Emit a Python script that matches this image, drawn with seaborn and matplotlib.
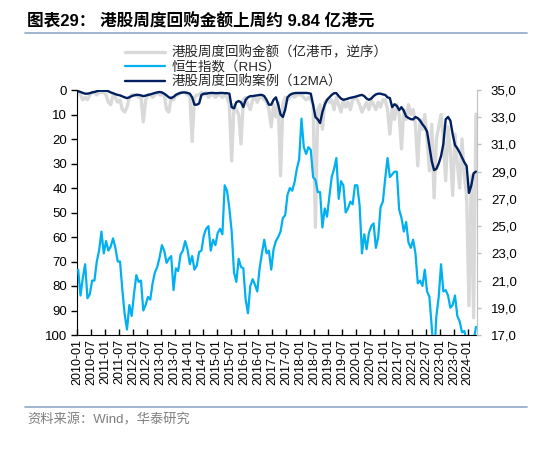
import numpy as np
import pandas as pd
import matplotlib
matplotlib.use("Agg")
import matplotlib.pyplot as plt
import seaborn as sns
from matplotlib.ticker import FuncFormatter
from matplotlib.lines import Line2D

# ---------------- data (monthly, Jan 2010 - Apr 2024) ----------------
start_year = 2010
hsi_k = [  # Hang Seng Index, thousand points (RHS)
    21.8, 19.9, 21.2, 22.2, 19.7, 20.0, 21.0, 21.0, 22.4, 23.2, 24.6, 23.0,   # 2010
    23.9, 23.2, 23.5, 24.1, 23.4, 22.4, 22.4, 20.3, 18.5, 17.4, 19.2, 18.4,   # 2011
    20.0, 21.4, 20.9, 21.0, 18.8, 19.2, 19.8, 19.6, 20.8, 21.6, 22.0, 22.7,   # 2012
    23.6, 23.2, 22.3, 22.6, 22.8, 20.3, 21.9, 21.7, 22.9, 23.2, 23.9, 23.3,   # 2013
    22.2, 22.8, 21.8, 22.1, 23.1, 23.2, 24.3, 24.8, 25.0, 23.2, 24.0, 23.6,   # 2014
    24.5, 24.8, 24.4, 28.0, 27.6, 26.3, 24.6, 21.6, 20.9, 22.6, 22.0, 21.9,   # 2015
    19.6, 18.6, 20.6, 21.1, 20.7, 20.2, 21.9, 23.0, 24.0, 23.0, 23.2, 21.8,   # 2016
    23.3, 23.9, 24.2, 24.6, 25.6, 25.8, 27.3, 27.8, 27.6, 28.2, 29.2, 29.9,   # 2017
    32.9, 30.8, 30.3, 30.8, 30.6, 28.6, 28.4, 27.5, 27.5, 24.9, 26.3, 25.7,   # 2018
    27.2, 28.6, 29.2, 30.0, 27.0, 28.3, 28.0, 26.0, 26.3, 26.8, 26.6, 28.0,   # 2019
    28.0, 26.5, 23.0, 24.4, 23.3, 24.5, 25.0, 25.2, 23.4, 24.2, 26.4, 26.8,   # 2020
    28.5, 30.0, 28.6, 28.8, 29.0, 29.0, 26.2, 25.6, 24.6, 25.3, 23.8, 23.4,   # 2021
    24.0, 23.0, 20.8, 21.0, 20.6, 21.8, 20.2, 19.8, 17.6, 15.2, 18.4, 19.8,   # 2022
    22.2, 20.2, 20.3, 19.9, 19.0, 19.2, 19.9, 18.4, 18.0, 17.2, 17.3, 16.6,   # 2023
    15.5, 16.3, 16.5, 17.6,                                                   # 2024
]
buyback_amount = [  # HK buyback amount, 100m HKD (reversed LHS)
    1, 2, 4, 3, 4, 2, 1, 1, 2, 1, 1, 1,
    2, 5, 6, 2, 3, 5, 4, 8, 9, 7, 3, 2,
    2, 2, 3, 3, 13, 4, 2, 2, 3, 2, 1, 2,
    2, 2, 8, 9, 3, 4, 2, 2, 1, 1, 1, 2,
    2, 21, 3, 2, 2, 1, 2, 1, 3, 2, 2, 3,
    2, 2, 3, 2, 3, 6, 29, 6, 8, 10, 22, 4,
    3, 6, 8, 4, 3, 5, 3, 3, 4, 5, 8, 15,
    6, 11, 5, 35, 6, 3, 4, 3, 2, 3, 2, 2,
    2, 3, 4, 3, 4, 6, 56, 8, 6, 16, 5, 4,
    5, 4, 8, 3, 6, 9, 4, 7, 5, 8, 4, 3,
    4, 6, 9, 7, 5, 8, 4, 6, 8, 5, 7, 4,
    4, 8, 18, 7, 12, 6, 10, 24, 8, 12, 6, 10,
    8, 14, 31, 12, 16, 10, 20, 33, 14, 44, 20, 15,
    10, 20, 37, 15, 25, 43, 18, 30, 40, 20, 35, 43,
    88, 35, 93, 9.84,
]
buyback_cases_12ma = [  # weekly buyback cases, 12MA (LHS)
    0.5, 0.8, 1.2, 1.5, 1.5, 1.3, 1.0, 0.8, 0.5, 0.3, 0.3, 0.3,
    0.3, 0.5, 1.0, 1.3, 1.7, 2.0, 2.2, 2.6, 3.0, 3.3, 3.0, 2.5,
    2.2, 2.0, 2.0, 2.2, 2.5, 2.3, 2.0, 1.8, 1.5, 1.2, 1.0, 0.8,
    1.0, 1.5, 2.2, 3.0, 3.3, 2.8, 2.0, 1.5, 1.2, 1.0, 1.0, 1.2,
    1.5, 3.0, 6.0, 6.0, 5.5, 2.0, 1.5, 1.5, 1.3, 1.2, 1.2, 1.3,
    1.3, 1.2, 1.2, 1.3, 1.3, 1.5, 7.0, 7.5, 5.0, 4.5, 5.0, 7.0,
    4.0, 3.0, 2.5, 2.5, 2.3, 2.2, 2.0, 2.0, 2.5, 4.0, 6.0, 6.0,
    4.0, 3.0, 6.0, 10.0, 11.0, 8.0, 3.0, 2.0, 1.5, 1.3, 1.2, 1.2,
    1.2, 1.2, 1.2, 1.3, 1.5, 6.0, 11.0, 12.0, 13.5, 9.0, 6.0, 4.0,
    3.0, 2.0, 1.3, 1.3, 2.5, 3.5, 4.0, 3.8, 3.5, 3.2, 3.0, 2.8,
    2.5, 2.2, 2.0, 2.5, 3.5, 4.0, 3.5, 2.5, 1.8, 1.5, 1.5, 1.8,
    2.0, 3.0, 3.3, 7.0, 5.8, 6.5, 8.2, 7.0, 8.5, 10.8, 11.4, 11.9,
    12.0, 11.0, 11.5, 12.5, 14.0, 15.2, 17.0, 23.0, 29.0, 32.7, 32.2, 30.0,
    27.0, 22.0, 12.0, 11.0, 12.5, 18.0, 22.5, 23.8, 25.5, 27.5, 29.5, 31.0,
    42.0, 39.0, 34.0, 33.3,
]
tick_labels = [f"{y}-{m}" for y in range(2010, 2025) for m in ("01", "07")][:29]
legend_labels = ["港股周度回购金额（亿港币，逆序）", "恒生指数（RHS）", "港股周度回购案例（12MA）"]

# ---------------- styling ----------------
sns.set_style("ticks")
plt.rcParams["font.family"] = ["Liberation Sans", "Noto Sans CJK SC", "DejaVu Sans"]
plt.rcParams["axes.unicode_minus"] = False

C_GRAY, C_BLUE, C_NAVY = "#d9d9d9", "#00b0f0", "#002060"

n = len(hsi_k)
xpos = start_year + (np.arange(n) + 0.5) / 12.0
df = pd.DataFrame({"x": xpos, "amt": buyback_amount,
                   "cases": buyback_cases_12ma, "hsi": hsi_k})

W, H = 550, 455
fig = plt.figure(figsize=(W / 100, H / 100), dpi=100)
ax = fig.add_axes([77 / W, 1 - 335 / H, 400 / W, 245 / H])
ax2 = ax.twinx()

sns.lineplot(data=df, x="x", y="amt", ax=ax, color=C_GRAY, lw=2.4, legend=False)
sns.lineplot(data=df, x="x", y="cases", ax=ax, color=C_NAVY, lw=1.7, legend=False)
sns.lineplot(data=df, x="x", y="hsi", ax=ax2, color=C_BLUE, lw=1.6, legend=False)

ax.set_xlim(2010.0, 2024.33)
ax.set_ylim(100, 0)
ax.set_yticks(range(0, 101, 10))
ax2.set_ylim(17, 35)
ax2.set_yticks(np.arange(17, 35.1, 2))
ax2.yaxis.set_major_formatter(FuncFormatter(lambda v, p: f"{v:.1f}".replace(".", ",")))

xt = [2010 + 0.5 * k for k in range(len(tick_labels))]
ax.set_xticks(xt)
ax.set_xticklabels(tick_labels, rotation=90)
for a in (ax, ax2):
    a.set_xlabel("")
    a.set_ylabel("")
    a.grid(False)

ax.spines["top"].set_visible(False)
ax.spines["right"].set_visible(False)
ax.spines["left"].set_color("black")
ax.spines["bottom"].set_color("black")
ax2.spines["top"].set_visible(False)
ax2.spines["left"].set_visible(False)
ax2.spines["bottom"].set_visible(False)
ax2.spines["right"].set_color("#bfbfbf")

ax.tick_params(axis="x", direction="in", length=4, width=1, labelsize=9, pad=3, colors="black")
ax.tick_params(axis="y", direction="out", length=4, width=1, labelsize=9.5, pad=3, colors="black")
ax2.tick_params(axis="y", direction="out", length=3, width=1, labelsize=9.5, pad=7,
                color="#bfbfbf", labelcolor="black")

# legend
handles = [Line2D([], [], color=C_GRAY, lw=2.4),
           Line2D([], [], color=C_BLUE, lw=1.6),
           Line2D([], [], color=C_NAVY, lw=1.7)]
fig.legend(handles, legend_labels, loc="upper left", bbox_to_anchor=(125 / W, 1 - 46 / H),
           frameon=False, fontsize=9.7, handlelength=3.0, handletextpad=0.45,
           labelspacing=0.12, borderpad=0, borderaxespad=0)

# title, rules, source
fig.text(27 / W, 1 - 21 / H, "图表29： 港股周度回购金额上周约 9.84 亿港元",
         fontsize=12, fontweight="bold", va="center", ha="left", color="black")
fig.add_artist(Line2D([25 / W, 527 / W], [1 - 33 / H] * 2, color="#8ea9c8", lw=1.2))
fig.add_artist(Line2D([25 / W, 527 / W], [1 - 407 / H] * 2, color="#8ea9c8", lw=1.2))
fig.text(27 / W, 1 - 420 / H, "资料来源：Wind，华泰研究", fontsize=9.5, va="center",
         ha="left", color="#7f7f7f")

fig.savefig("out.png", dpi=100)
